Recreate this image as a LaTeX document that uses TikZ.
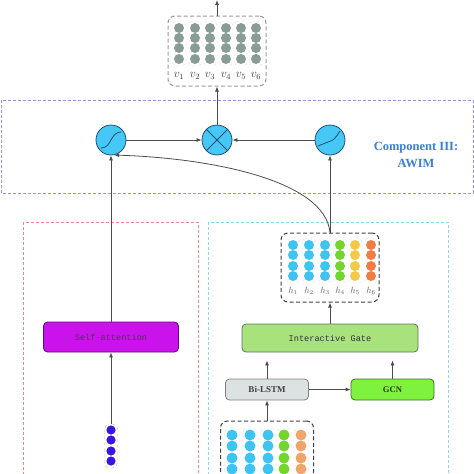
\documentclass[tikz,border=0pt]{standalone}
\usepackage{fontspec}
\setmainfont{Liberation Serif}
\setmonofont{Liberation Mono}
\usetikzlibrary{arrows.meta, positioning, calc}

\definecolor{awimline}{HTML}{9C8FD6}
\definecolor{redline}{HTML}{E88A96}
\definecolor{cyanline}{HTML}{8FD8E8}
\definecolor{cellblue}{HTML}{3EC4F2}
\definecolor{cellgreen}{HTML}{72D62F}
\definecolor{cellyellow}{HTML}{F6C848}
\definecolor{cellorange}{HTML}{EF7D45}
\definecolor{cellpeach}{HTML}{F0A66A}
\definecolor{cellgray}{HTML}{8A9C96}
\definecolor{cellindigo}{HTML}{3A14E0}
\definecolor{opfill}{HTML}{45C8F5}
\definecolor{opline}{HTML}{1E4E78}
\definecolor{titleblue}{HTML}{3B7DD8}
\definecolor{attfill}{HTML}{CC12EC}
\definecolor{attline}{HTML}{5A1070}
\definecolor{gatefill}{HTML}{A8E27C}
\definecolor{gateline}{HTML}{5E7358}
\definecolor{lstmfill}{HTML}{DCE2E2}
\definecolor{gcnfill}{HTML}{7EF23C}
\definecolor{gcnline}{HTML}{3E6E2A}

\begin{document}
\begin{tikzpicture}[
    x=1pt, y=-1pt, >={Latex[length=5pt,width=4pt]},
    region/.style={dash pattern=on 3pt off 2pt, line width=0.7pt},
    vecbox/.style={draw=black!75, dash pattern=on 4pt off 2.5pt, line width=1pt,
                   rounded corners=7pt},
    colbox/.style={draw=black!12, dashed, line width=0.4pt, rounded corners=5pt},
    layer/.style={draw, line width=0.8pt, rounded corners=4pt, inner sep=0pt},
    opnode/.style={circle, draw=opline, line width=0.8pt, fill=opfill,
                   minimum size=30pt, inner sep=0pt},
    link/.style={draw=black!70, line width=0.8pt}
]
    \clip (0,0) rectangle (474,474);

    % --- Output vectors ---
    \node[vecbox, draw=black!40, minimum width=98pt, minimum height=70pt] (vbox) at (217,51) {};
    \foreach \x [count=\c] in {179,195,210,226,241,256} {
        \draw[colbox] (\x-7,21) rectangle (\x+7,66);
        \foreach \y in {28,38,48,59}
            \fill[cellgray] (\x,\y) circle (5pt);
        \node[font=\fontsize{12}{12}\selectfont, text=black!75] (v\c) at (\x,76) {$v_{\c}$};
    }
    \coordinate (out) at (217,0);

    % --- Component III: AWIM ---
    \draw[region, draw=awimline] (1,100) rectangle (473,193);
    \node[opnode] (sigl) at (111,140) {};
    \node[opnode] (mult) at (217,140) {};
    \node[opnode] (sigr) at (330,140) {};
    \draw[opline, line width=0.8pt, shift={(sigl.center)}]
        (-10,8) .. controls (1,8) and (-1,-8) .. (10,-8);
    \draw[opline, line width=0.8pt] (mult.north west) -- (mult.south east)
        (mult.north east) -- (mult.south west);
    \draw[opline, line width=0.8pt, shift={(sigr.center)}]
        (-12,6) -- (-2,2) .. controls (4,0) .. (10,-9);
    \node[font=\bfseries\fontsize{12.5}{17}\selectfont, text=titleblue, align=center]
        (awimlabel) at (416,155) {Component III:\\AWIM};

    % --- Left branch ---
    \draw[region, draw=redline] (23,222) rectangle (198,490);
    \node[layer, draw=attline, fill=attfill, font=\ttfamily\fontsize{8.6}{10}\selectfont,
          text=black!75, minimum width=135pt, minimum height=30pt] (selfatt) at (111,337) {Self-attention};
    \node[colbox, draw=black!30, minimum width=13pt, minimum height=44pt] (embed) at (111,446) {};
    \foreach \y in {430,440,451,461}
        \fill[cellindigo] (111,\y) circle (4.6pt);

    % --- Right branch ---
    \draw[region, draw=cyanline] (208,222) rectangle (448,490);
    \node[vecbox, minimum width=98pt, minimum height=69pt] (hbox) at (330,267.5) {};
    \foreach \x/\col [count=\c] in {293/cellblue,309/cellblue,325/cellblue,340/cellgreen,355/cellyellow,371/cellorange} {
        \draw[colbox] (\x-7,238) rectangle (\x+7,283);
        \foreach \y in {245,255,266,276}
            \fill[\col] (\x,\y) circle (5pt);
        \node[font=\fontsize{9}{9}\selectfont, text=black!60] (h\c) at (\x,291) {$h_{\c}$};
    }
    \node[layer, draw=gateline, fill=gatefill, font=\ttfamily\fontsize{8.6}{10}\selectfont,
          text=black!80, minimum width=176pt, minimum height=28pt] (gate) at (330,338) {Interactive Gate};
    \node[layer, draw=black!50, fill=lstmfill, font=\bfseries\fontsize{9}{10}\selectfont, text=black!75,
          minimum width=83pt, minimum height=21pt] (bilstm) at (267,389.5) {Bi-LSTM};
    \node[layer, draw=gcnline, fill=gcnfill, font=\bfseries\fontsize{8.6}{10}\selectfont,
          text=black!80, minimum width=83pt, minimum height=21pt] (gcn) at (392.5,389.5) {GCN};
    \node[vecbox, minimum width=93pt, minimum height=58pt] (inbox) at (267,450) {};
    \foreach \x/\col in {232/cellblue,250/cellblue,268/cellblue,284/cellgreen,301/cellpeach} {
        \draw[colbox] (\x-7.5,428) rectangle (\x+7.5,480);
        \foreach \y in {435,446,458,469}
            \fill[\col] (\x,\y) circle (5.5pt);
    }

    % --- Connections ---
    \draw[link, ->] (vbox) -- (out);
    \draw[link, ->] (mult) -- (vbox);
    \draw[link, ->] (sigl) -- (mult);
    \draw[link, ->] (sigr) -- (mult);
    \draw[link, ->] (selfatt) -- (sigl);
    \draw[link, ->] (hbox) -- (sigr);
    \draw[link, ->] (hbox.north) .. controls (325,180) and (210,158) .. (sigl.-78);
    \draw[link, ->] (embed) -- (selfatt);
    \draw[link, ->] (gate) -- (hbox);
    \draw[link, ->, shorten >=8pt] (bilstm) -- (bilstm |- gate.south);
    \draw[link, ->, shorten >=8pt] (gcn) -- (gcn |- gate.south);
    \draw[link, ->] (bilstm) -- (gcn);
    \draw[link, ->] (inbox) -- (bilstm);
\end{tikzpicture}
\end{document}
